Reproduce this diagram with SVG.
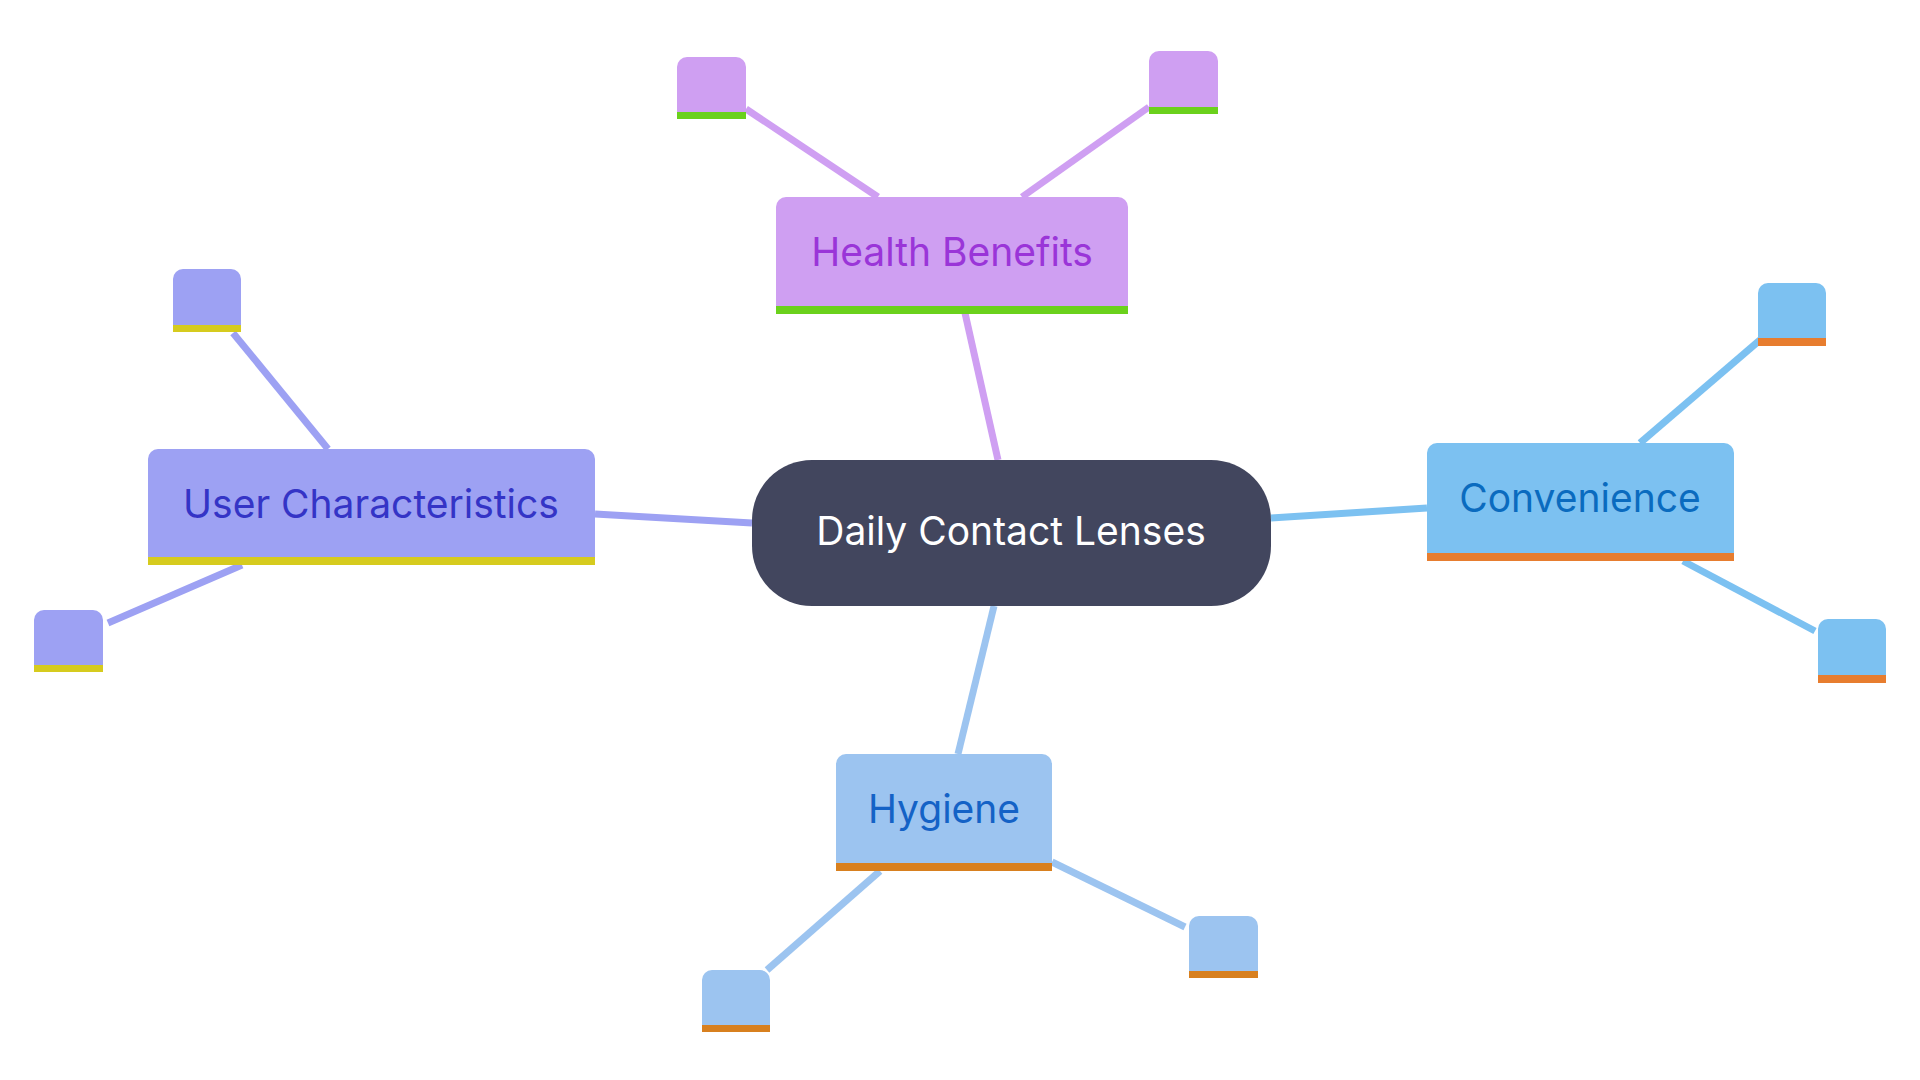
<svg xmlns="http://www.w3.org/2000/svg" width="1920" height="1080" viewBox="0 0 1920 1080">
<style>
text{font-family:Inter,"Noto Sans","Liberation Sans",sans-serif;text-anchor:middle;dominant-baseline:central}
.e{stroke-width:7;fill:none}
.hb{fill:#cf9ff2}.uc{fill:#9da1f3}.cv{fill:#7cc1f1}.hy{fill:#9cc4f0}
</style>
<rect width="1920" height="1080" fill="#fff"/>
<g id="connectors">
<line class="e" stroke="#cf9ff2" x1="998" y1="460" x2="965" y2="313"/>
<line class="e" stroke="#cf9ff2" x1="878" y1="197" x2="746" y2="109"/>
<line class="e" stroke="#cf9ff2" x1="1022" y1="197" x2="1149" y2="107"/>
<line class="e" stroke="#9da1f3" x1="752" y1="523" x2="595" y2="514"/>
<line class="e" stroke="#9da1f3" x1="328" y1="449" x2="233" y2="333"/>
<line class="e" stroke="#9da1f3" x1="242" y1="565" x2="108" y2="623"/>
<line class="e" stroke="#7cc1f1" x1="1271" y1="518" x2="1427" y2="508"/>
<line class="e" stroke="#7cc1f1" x1="1640" y1="443" x2="1760" y2="340"/>
<line class="e" stroke="#7cc1f1" x1="1683" y1="561" x2="1815" y2="631"/>
<line class="e" stroke="#9cc4f0" x1="994" y1="606" x2="958" y2="754"/>
<line class="e" stroke="#9cc4f0" x1="880" y1="871" x2="767" y2="970"/>
<line class="e" stroke="#9cc4f0" x1="1052" y1="862" x2="1185" y2="927"/>
</g>
<g id="center"><rect x="752" y="460" width="519" height="146" rx="60" fill="#42465e"/><text x="1011" y="530" font-size="39" fill="#fff">Daily Contact Lenses</text></g>
<g id="health"><path class="hb" d="M776 313V207a10 10 0 0 1 10-10h332a10 10 0 0 1 10 10v106z"/><rect x="776" y="306" width="352" height="8" fill="#6bd11c"/><text x="952" y="251" font-size="39" fill="#9a35d8">Health Benefits</text></g>
<g id="user"><path class="uc" d="M148 565V459a10 10 0 0 1 10-10h427a10 10 0 0 1 10 10v106z"/><rect x="148" y="557" width="447" height="8" fill="#d6cb1e"/><text x="371" y="503" font-size="39" fill="#3434c6">User Characteristics</text></g>
<g id="convenience"><path class="cv" d="M1427 561V453a10 10 0 0 1 10-10h287a10 10 0 0 1 10 10v108z"/><rect x="1427" y="553" width="307" height="8" fill="#e77d2f"/><text x="1580" y="497" font-size="39" fill="#0a6bbf">Convenience</text></g>
<g id="hygiene"><path class="hy" d="M836 871V764a10 10 0 0 1 10-10h196a10 10 0 0 1 10 10v107z"/><rect x="836" y="863" width="216" height="8" fill="#d8801f"/><text x="944" y="808" font-size="39" fill="#1462c6">Hygiene</text></g>
<g id="hb1"><path class="hb" d="M677 119V67a10 10 0 0 1 10-10h49a10 10 0 0 1 10 10v52z"/><rect x="677" y="112" width="69" height="7" fill="#6bd11c"/></g>
<g id="hb2"><path class="hb" d="M1149 114V61a10 10 0 0 1 10-10h49a10 10 0 0 1 10 10v53z"/><rect x="1149" y="107" width="69" height="7" fill="#6bd11c"/></g>
<g id="uc1"><path class="uc" d="M173 332V279a10 10 0 0 1 10-10h48a10 10 0 0 1 10 10v53z"/><rect x="173" y="325" width="68" height="7" fill="#d6cb1e"/></g>
<g id="uc2"><path class="uc" d="M34 672V620a10 10 0 0 1 10-10h49a10 10 0 0 1 10 10v52z"/><rect x="34" y="665" width="69" height="7" fill="#d6cb1e"/></g>
<g id="cv1"><path class="cv" d="M1758 346V293a10 10 0 0 1 10-10h48a10 10 0 0 1 10 10v53z"/><rect x="1758" y="338" width="68" height="8" fill="#e77d2f"/></g>
<g id="cv2"><path class="cv" d="M1818 683V629a10 10 0 0 1 10-10h48a10 10 0 0 1 10 10v54z"/><rect x="1818" y="675" width="68" height="8" fill="#e77d2f"/></g>
<g id="hy1"><path class="hy" d="M702 1032V980a10 10 0 0 1 10-10h48a10 10 0 0 1 10 10v52z"/><rect x="702" y="1025" width="68" height="7" fill="#d8801f"/></g>
<g id="hy2"><path class="hy" d="M1189 978V926a10 10 0 0 1 10-10h49a10 10 0 0 1 10 10v52z"/><rect x="1189" y="971" width="69" height="7" fill="#d8801f"/></g>
</svg>
